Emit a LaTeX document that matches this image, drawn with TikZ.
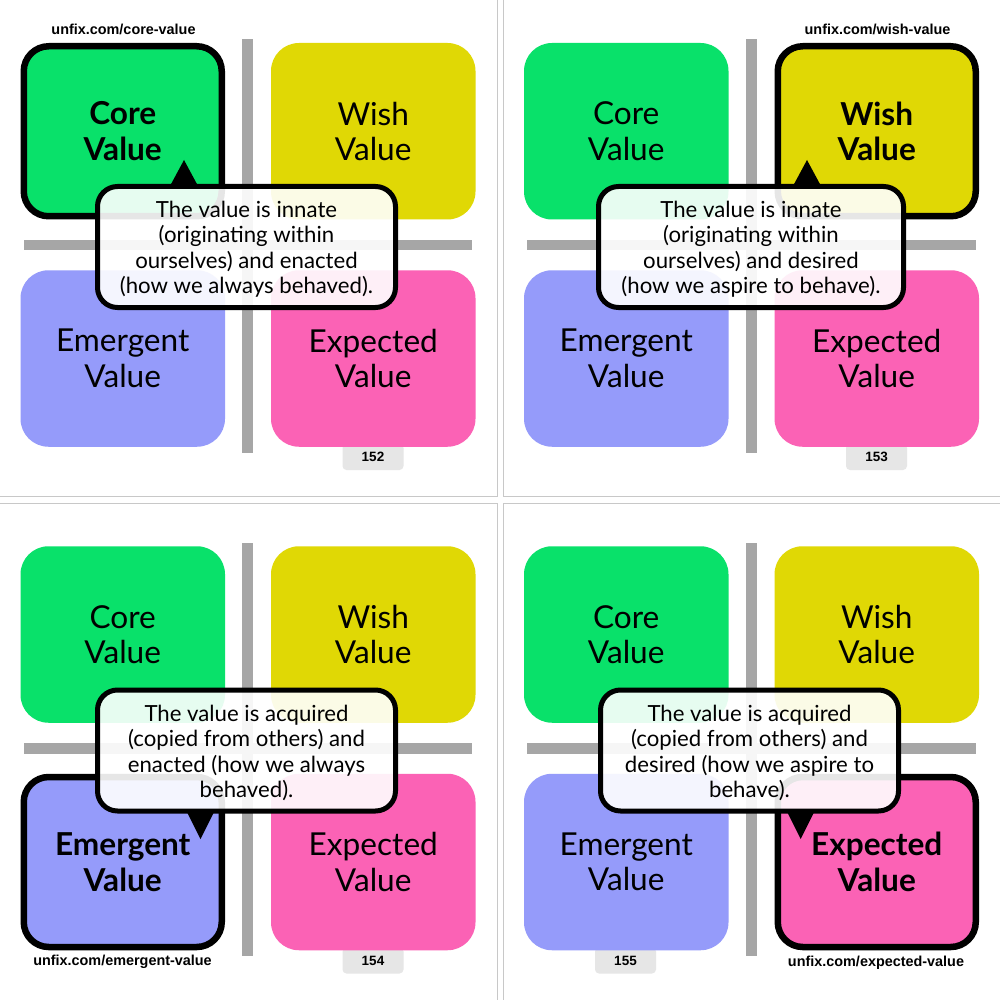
\documentclass[tikz,border=0pt]{standalone}
\usepackage{fontspec}
\setmainfont{Lato}
\newfontfamily\urlfont{Liberation Sans}

\definecolor{fig-core}{RGB}{ 9, 225, 106}
\definecolor{fig-wish}{RGB}{224, 216, 5}
\definecolor{fig-emergent}{RGB}{149, 155, 250}
\definecolor{fig-expected}{RGB}{251, 98, 181}
\definecolor{fig-bar}{RGB}{166, 166, 166}
\definecolor{fig-frame}{RGB}{200, 200, 200}
\definecolor{fig-tab}{RGB}{230, 230, 230}

\newcommand{\topgap}{\rule{0pt}{21pt}}

\tikzset{
  quad/.style={rectangle, rounded corners=28pt, minimum width=204.5pt, minimum height=176.5pt,
    inner sep=0pt, align=center, font=\fontsize{31.6}{35.5}\selectfont},
  current/.style={quad, draw=black, line width=6.5pt, rounded corners=25pt, minimum width=198pt,
    minimum height=170pt, font=\fontsize{31.6}{35.5}\selectfont\bfseries},
  callout/.style={rectangle, rounded corners=20pt, draw=black, line width=5pt, fill=white,
    fill opacity=0.9, text opacity=1, draw opacity=1, inner sep=0pt, minimum height=121pt,
    align=center, font=\fontsize{22.2}{25.3}\selectfont},
  pagetab/.style={rectangle, rounded corners=4pt, fill=fig-tab, minimum width=61pt, minimum height=26pt,
    inner sep=0pt, font=\urlfont\fontsize{13.5}{15}\selectfont\bfseries},
  weblink/.style={inner sep=0pt, font=\urlfont\fontsize{14.4}{16}\selectfont\bfseries},
  bar/.style={fill=fig-bar},
  frame/.style={draw=fig-frame, line width=1pt},
}

\begin{document}
\begin{tikzpicture}[x=1pt, y=-1pt]
  \useasboundingbox (0,0) rectangle (1000,1000);
  \fill[white] (0,0) rectangle (1000,1000);

  \draw[frame] (0,496.5) -- (497,496.5) -- (497,0);
  \draw[frame] (1000,496.5) -- (503,496.5) -- (503,0);
  \draw[frame] (0,503.5) -- (497,503.5) -- (497,1000);
  \draw[frame] (1000,503.5) -- (503,503.5) -- (503,1000);

  % page 152
  \fill[bar] (242,39) rectangle (253,453);
  \fill[bar] (23.5,240) rectangle (472,250);
  \node[pagetab] (tab152) at (373,457) {152};
  \node[quad, fill=fig-wish] (wish152) at (373.25,131.25) {Wish\\Value};
  \node[quad, fill=fig-emergent] (emergent152) at (122.75,358.5) {Emergent\\Value};
  \node[quad, fill=fig-expected] (expected152) at (373.25,358.5) {Expected\\Value};
  \node[current, fill=fig-core] (core152) at (122.75,131.25) {Core\\Value};
  \node[weblink] (url152) at (123.5,29) {unfix.com/core-value};
  \fill (184,160) -- (198,186) -- (170,186) -- cycle;
  \node[callout, minimum width=298pt] (text152) at (246.5,247)
    {\topgap The value is innate\\(originating within\\ourselves) and enacted\\(how we always behaved).};

  % page 153
  \fill[bar] (745.5,39) rectangle (756.5,453);
  \fill[bar] (527,240) rectangle (975.5,250);
  \node[pagetab] (tab153) at (876.5,457) {153};
  \node[quad, fill=fig-core] (core153) at (626.25,131.25) {Core\\Value};
  \node[quad, fill=fig-emergent] (emergent153) at (626.25,358.5) {Emergent\\Value};
  \node[quad, fill=fig-expected] (expected153) at (876.75,358.5) {Expected\\Value};
  \node[current, fill=fig-wish] (wish153) at (876.75,131.25) {Wish\\Value};
  \node[weblink] (url153) at (877.5,29) {unfix.com/wish-value};
  \fill (807,160) -- (821,186) -- (793,186) -- cycle;
  \node[callout, minimum width=305pt] (text153) at (751,247)
    {\topgap The value is innate\\(originating within\\ourselves) and desired\\(how we aspire to behave).};

  % page 154
  \fill[bar] (242,543) rectangle (253,956);
  \fill[bar] (23.5,743) rectangle (472,754);
  \node[pagetab] (tab154) at (373,960.5) {154};
  \node[quad, fill=fig-core] (core154) at (122.75,634.5) {Core\\Value};
  \node[quad, fill=fig-wish] (wish154) at (373.25,634.5) {Wish\\Value};
  \node[quad, fill=fig-expected] (expected154) at (373.25,862) {Expected\\Value};
  \node[current, fill=fig-emergent] (emergent154) at (122.75,862) {Emergent\\Value};
  \node[weblink] (url154) at (122.5,962) {unfix.com/emergent-value};
  \fill (200.5,839) -- (186.5,811) -- (214.5,811) -- cycle;
  \node[callout, minimum width=298pt] (text154) at (246.5,750.5)
    {\topgap The value is acquired\\(copied from others) and\\enacted (how we always\\behaved).};

  % page 155
  \fill[bar] (745.5,543) rectangle (756.5,956);
  \fill[bar] (527,743) rectangle (975.5,754);
  \node[pagetab] (tab155) at (625.5,960.5) {155};
  \node[quad, fill=fig-core] (core155) at (626.25,634.5) {Core\\Value};
  \node[quad, fill=fig-wish] (wish155) at (876.75,634.5) {Wish\\Value};
  \node[quad, fill=fig-emergent] (emergent155) at (626.25,862) {Emergent\\Value};
  \node[current, fill=fig-expected] (expected155) at (876.75,862) {Expected\\Value};
  \node[weblink] (url155) at (876,963) {unfix.com/expected-value};
  \fill (800.7,839) -- (786.7,811) -- (814.7,811) -- cycle;
  \node[callout, minimum width=298pt] (text155) at (749.5,750.5)
    {\topgap The value is acquired\\(copied from others) and\\desired (how we aspire to\\behave).};
\end{tikzpicture}
\end{document}
